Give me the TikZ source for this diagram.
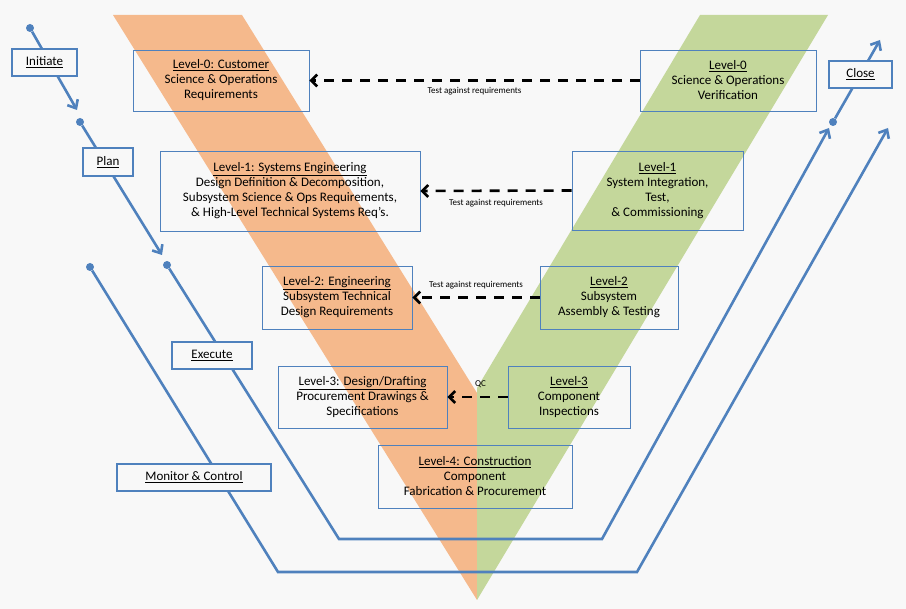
\documentclass[tikz,border=0pt]{standalone}
\usepackage{fontspec}
\setmainfont{Carlito}
\usetikzlibrary{arrows.meta}
\definecolor{bl}{HTML}{4F81BD}
\definecolor{org}{HTML}{F5B98C}
\definecolor{grn}{HTML}{C4D79B}
\definecolor{bg}{HTML}{F8F8F8}
\tikzset{
 lvl/.style={draw=bl,line width=0.8pt,align=center,font=\fontsize{13}{15}\selectfont,inner sep=0pt},
 tag/.style={draw=bl,line width=2pt,font=\fontsize{13}{15}\selectfont,inner sep=0pt},
 flow/.style={bl,line width=2.6pt,-{Straight Barb[length=7pt,width=12pt]}},
 flown/.style={bl,line width=2.6pt},
 dot/.style={circle,fill=bl,inner sep=0pt,minimum size=8pt},
 test/.style={line width=2.6pt,dash pattern=on 10pt off 8pt,-{Straight Barb[length=6pt,width=12pt]}},
 lab/.style={font=\fontsize{9}{10}\selectfont,inner sep=0pt}
}
\begin{document}
\begin{tikzpicture}[x=1pt,y=-1pt]
\fill[bg] (0,0) rectangle (906,609);
\useasboundingbox (0,0) rectangle (906,609);
% bands
\fill[org] (113,15) -- (242,15) -- (477,393) -- (477,600) -- cycle;
\fill[grn] (700,15) -- (828,15) -- (477,600) -- (477,388) -- cycle;
% boxes
\node[lvl,minimum width=176pt,minimum height=61pt] (l0l) at (221,80.5) {\underline{Level-0: Customer}\\Science \& Operations\\Requirements};
\node[lvl,minimum width=176pt,minimum height=61pt] (l0r) at (728,80.5) {\underline{Level-0}\\Science \& Operations\\Verification};
\node[lvl,minimum width=260pt,minimum height=80pt] (l1l) at (290,191) {\underline{Level-1: Systems Engineering}\\Design Definition \& Decomposition,\\Subsystem Science \& Ops Requirements,\\\& High-Level Technical Systems Req's.};
\node[lvl,minimum width=171pt,minimum height=79pt] (l1r) at (657.5,190.5) {\underline{Level-1}\\System Integration,\\Test,\\\& Commissioning};
\node[lvl,minimum width=150pt,minimum height=63pt] (l2l) at (337,297.5) {\underline{Level-2: Engineering}\\Subsystem Technical\\Design Requirements};
\node[lvl,minimum width=138pt,minimum height=63pt] (l2r) at (609,297.5) {\underline{Level-2}\\Subsystem\\Assembly \& Testing};
\node[lvl,minimum width=169pt,minimum height=62pt] (l3l) at (362.5,397) {\underline{Level-3: Design/Drafting}\\Procurement Drawings \&\\Specifications};
\node[lvl,minimum width=122pt,minimum height=62pt] (l3r) at (569,397) {\underline{Level-3}\\Component\\Inspections};
\node[lvl,minimum width=194pt,minimum height=63pt] (l4) at (475,476.5) {\underline{Level-4: Construction}\\Component\\Fabrication \& Procurement};
% test arrows
\draw[test] (l0r.west) -- (l0l.east) node[lab,midway,below=6pt] {Test against requirements};
\draw[test] (l1r.west) -- (l1l.east) node[lab,midway,below=7pt] {Test against requirements};
\draw[test] (l2r.west) -- (l2l.east) node[lab,midway,above=7pt] {Test against requirements};
\draw[test] (l3r.west) -- (l3l.east) node[lab,pos=0.45,above=8pt] {QC};
% flow lines
\node[dot] (d1) at (30,28) {};
\coordinate (e1) at (77,110);
\draw[flow] (d1) -- (e1);
\node[dot] (d2) at (80,122) {};
\coordinate (e2) at (162,255);
\draw[flow] (d2) -- (e2);
\node[dot] (d3) at (167,265) {};
\node[dot] (d5) at (833,122) {};
\draw[flow] (d3) -- (339,539) -- (602,539) -- (829,128);
\coordinate (e5) at (880,40);
\draw[flow] (d5) -- (e5);
\node[dot] (d4) at (90,267) {};
\coordinate (e4) at (888,128);
\draw[flow] (d4) -- (278,572) -- (637,572) -- (e4);
% tags
\node[tag,fill=bg,minimum width=65pt,minimum height=27pt] (ini) at (44.5,62.5) {\underline{Initiate}};
\node[tag,fill=bg,minimum width=50pt,minimum height=28pt] (pla) at (108,162) {\underline{Plan}};
\node[tag,fill=bg,minimum width=80pt,minimum height=27pt] (exe) at (212,355.5) {\underline{Execute}};
\node[tag,fill=bg,minimum width=154pt,minimum height=27pt] (mon) at (194,477.5) {\underline{Monitor \& Control}};
\node[tag,fill=bg,minimum width=63pt,minimum height=27pt] (clo) at (860.5,74.5) {\underline{Close}};
\end{tikzpicture}
\end{document}
